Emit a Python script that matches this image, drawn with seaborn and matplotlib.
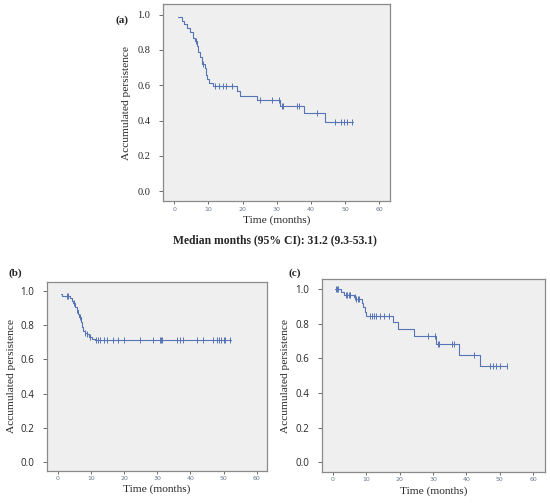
import numpy as np
import pandas as pd
import matplotlib
matplotlib.use('Agg')
import matplotlib.pyplot as plt
import seaborn as sns

# panel (a): event times and survival level after each step
times_a = [1.0, 2.2, 3.0, 3.9, 4.7, 5.5, 6.0, 6.6, 7.0, 7.6, 8.1, 8.9, 9.3, 9.7, 10.1, 11.3, 18.3, 19.3, 24.1, 31.0, 38.1, 44.1]
levels_a = [0.985, 0.965, 0.945, 0.925, 0.90, 0.87, 0.85, 0.82, 0.79, 0.76, 0.72, 0.70, 0.66, 0.635, 0.61, 0.595, 0.565, 0.54, 0.515, 0.48, 0.44, 0.39]
censor_a = [6.4, 8.5, 12.0, 13.0, 14.2, 15.1, 16.8, 25.1, 28.5, 30.6, 31.5, 31.8, 35.8, 36.4, 41.9, 47.1, 48.7, 49.8, 50.6, 52.1]

# panel (b)
times_b = [1.0, 1.4, 3.7, 4.2, 4.7, 5.2, 5.7, 6.2, 6.5, 7.0, 7.3, 7.7, 8.2, 8.7, 9.5, 10.3, 11.3]
levels_b = [0.98, 0.97, 0.955, 0.94, 0.925, 0.905, 0.885, 0.865, 0.845, 0.82, 0.79, 0.765, 0.755, 0.745, 0.73, 0.72, 0.71]
censor_b = [2.7, 3.2, 4.9, 5.9, 6.6, 8.3, 8.9, 9.8, 11.6, 12.1, 12.6, 14.0, 15.0, 16.8, 18.3, 20.0, 24.8, 28.6, 30.8, 31.1,
            31.5, 36.1, 36.9, 37.9, 42.1, 43.9, 46.9, 47.9, 48.7, 49.1, 50.1, 50.4, 51.9]

# panel (c)
times_c = [0.7, 2.4, 3.3, 6.2, 6.7, 8.7, 9.1, 9.5, 10.0, 18.1, 19.4, 24.4, 30.8, 37.9, 44.1]
levels_c = [1.0, 0.985, 0.965, 0.955, 0.945, 0.92, 0.895, 0.87, 0.845, 0.81, 0.77, 0.73, 0.685, 0.62, 0.555]
censor_c = [0.9, 1.2, 1.5, 4.0, 4.4, 4.8, 5.2, 6.5, 7.0, 7.4, 7.9, 11.2, 11.7, 12.2, 13.0, 14.0, 15.2, 16.7, 28.6, 30.6,
            31.4, 31.9, 35.6, 36.3, 42.1, 47.1, 47.8, 48.9, 50.0, 52.2]

end_time = 52.2
x_ticks = [0, 10, 20, 30, 40, 50, 60]
y_ticks = [0.0, 0.2, 0.4, 0.6, 0.8, 1.0]

sns.set_style('white', {'axes.facecolor': '#efefef', 'axes.edgecolor': '#8a8a8a'})
plt.rcParams['font.family'] = ['Liberation Serif', 'DejaVu Serif']

line_col = '#5775b5'

fig = plt.figure(figsize=(5.5, 5.03), dpi=100)
ax_a = fig.add_axes([0.296, 0.600, 0.413, 0.392])
ax_b = fig.add_axes([0.085, 0.064, 0.400, 0.376])
ax_c = fig.add_axes([0.585, 0.062, 0.406, 0.3825])


def km_panel(ax, times, levels, censors, xlim, ylim, tick_font):
    df = pd.DataFrame({'t': times + [end_time], 's': levels + [levels[-1]]})
    sns.lineplot(data=df, x='t', y='s', ax=ax, drawstyle='steps-post', estimator=None,
                 sort=False, color=line_col, linewidth=0.8)
    idx = np.searchsorted(times, censors, side='right') - 1
    cdf = pd.DataFrame({'t': censors, 's': np.array(levels)[idx]})
    sns.scatterplot(data=cdf, x='t', y='s', ax=ax, marker='|', s=20, color=line_col, linewidth=0.7)
    ax.set_xlim(*xlim)
    ax.set_ylim(*ylim)
    ax.set_xticks(x_ticks)
    ax.set_yticks(y_ticks)
    ax.set_xticklabels([str(v) for v in x_ticks], fontsize=4.5, color='#6a7690', family='DejaVu Sans')
    ax.set_yticklabels([f'{v:.1f}' for v in y_ticks], **tick_font)
    ax.tick_params(axis='y', length=3, width=0.6, color='#555555', pad=6, left=True)
    ax.tick_params(axis='x', length=2, width=0.6, color='#555555', pad=2, bottom=True)
    for sp in ax.spines.values():
        sp.set_linewidth(0.9)
    ax.set_xlabel('Time (months)', fontsize=8.2)
    ax.set_ylabel('Accumulated persistence', fontsize=8.2)
    ax.yaxis.set_label_coords(-0.142, 0.5)
    ax.xaxis.set_label_coords(0.5, -0.074)


km_panel(ax_a, times_a, levels_a, censor_a, (-3.3, 63.1), (-0.057, 1.06),
         {'fontsize': 7.5, 'family': 'Liberation Serif'})
km_panel(ax_b, times_b, levels_b, censor_b, (-3.3, 63.0), (-0.049, 1.052),
         {'fontsize': 7, 'family': 'Open Sans'})
km_panel(ax_c, times_c, levels_c, censor_c, (-3.3, 63.5), (-0.054, 1.056),
         {'fontsize': 7, 'family': 'Open Sans'})

fig.text(122 / 550, 1 - 20 / 503, '(a)', fontsize=8, weight='bold', ha='center', va='center')
fig.text(15 / 550, 1 - 273 / 503, '(b)', fontsize=8, weight='bold', ha='center', va='center')
fig.text(295 / 550, 1 - 273 / 503, '(c)', fontsize=8, weight='bold', ha='center', va='center')
fig.text(275 / 550, 1 - 240 / 503, 'Median months (95% CI): 31.2 (9.3-53.1)', fontsize=8.4,
         weight='bold', ha='center', va='center')

fig.savefig('out.png', dpi=100)
